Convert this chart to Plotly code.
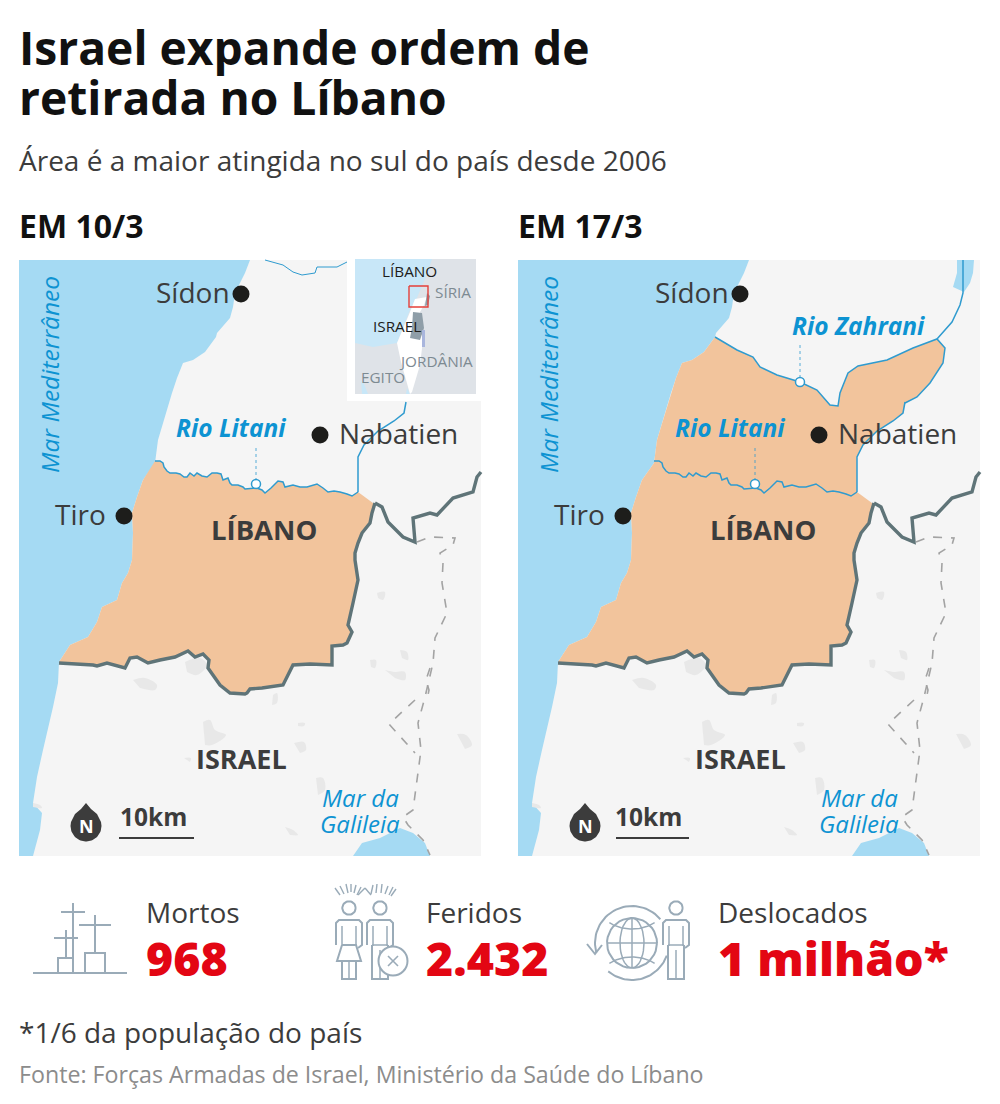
import numpy as np
import plotly.graph_objects as go

FONT = "Open Sans, Noto Sans, Arial"
SEA = "#a5daf3"
ORANGE = "#f2c49c"
LAND = "#f5f5f5"
BORDER = "#5f7478"
RIVER = "#2f9bcf"
LABEL_BLUE = "#0d93d2"
DARK = "#3c3c3c"
RED = "#e30613"
ICON = "#9aabb8"
OFFSET = 499  # right map is the left one moved across

TITLE_LINES = ["Israel expande ordem de", "retirada no Líbano"]
SUBTITLE = "Área é a maior atingida no sul do país desde 2006"
PANEL_TITLES = ["EM 10/3", "EM 17/3"]
STAT_LABELS = ["Mortos", "Feridos", "Deslocados"]
STAT_VALUES = ["968", "2.432", "1 milhão*"]
FOOTNOTE = "*1/6 da população do país"
SOURCE = "Fonte: Forças Armadas de Israel, Ministério da Saúde do Líbano"

# map outlines in page pixels
COAST_NORTH = [(250, 260), (245, 273), (235, 293), (233, 307), (230, 318), (217, 333)]
COAST_MID = [(216, 337), (205, 352), (193, 360), (183, 363), (177, 378), (172, 393), (165, 417), (158, 440), (155, 463)]
COAST_SOUTH = [(143, 480), (137, 497), (132, 513), (133, 533), (132, 560), (128, 573), (122, 583), (117, 600),
               (102, 607), (97, 622), (88, 637), (70, 645), (59, 662)]
COAST_ISRAEL = [(58, 683), (53, 707), (43, 750), (37, 777), (33, 803), (42, 813), (40, 830), (33, 856)]
LITANI = [(155, 461), (160, 461), (163, 463), (164, 467), (167, 471), (170, 473), (176, 473), (180, 474), (184, 477),
          (187, 477), (190, 473), (194, 476), (197, 473), (202, 476), (207, 477), (212, 473), (217, 473), (221, 474),
          (223, 480), (228, 478), (230, 483), (232, 485), (238, 485), (243, 487), (245, 489), (257, 488), (262, 490),
          (265, 493), (271, 488), (278, 481), (283, 482), (285, 487), (293, 485), (300, 487), (307, 487), (317, 484),
          (323, 488), (328, 492), (334, 491), (340, 492), (347, 494), (352, 496), (358, 492)]
SOUTH_BORDER = [(375, 503), (372, 513), (370, 523), (362, 533), (358, 543), (355, 553), (355, 560), (357, 573),
                (358, 580), (353, 603), (348, 625), (352, 632), (347, 643), (343, 645), (332, 646), (332, 665),
                (310, 664), (293, 665), (283, 685), (262, 688), (250, 689), (247, 693), (245, 694), (230, 693),
                (220, 685), (208, 668), (209, 660), (203, 654), (195, 657), (188, 651), (175, 657), (160, 660),
                (148, 663), (137, 657), (130, 658), (125, 668), (115, 665), (107, 663), (97, 666), (93, 665), (59, 663)]
EAST_BORDER = [(375, 503), (382, 507), (388, 522), (403, 537), (415, 542), (413, 518), (430, 513), (437, 515),
               (453, 498), (473, 492), (477, 477), (481, 472)]
ZAHRANI = [(216, 337), (238, 350), (254, 357), (261, 367), (278, 375), (301, 382), (318, 390), (331, 405), (339, 406),
           (341, 393), (349, 373), (359, 366), (388, 360), (414, 348), (438, 339), (446, 348), (444, 363), (431, 383),
           (418, 397), (406, 403)]
EAST_RIVER = [(406, 402), (404, 413), (394, 421), (378, 431), (364, 445), (358, 457), (358, 492)]
NORTH_RIVER = [(464, 260), (464, 293), (461, 305), (453, 322), (438, 339)]
LAKE = [(458, 260), (475, 260), (474, 273), (471, 283), (465, 292), (454, 287), (458, 273)]
TOP_STREAM = [(265, 260), (283, 265), (293, 272), (302, 275), (315, 273), (317, 267), (337, 267), (347, 262)]
GALILEE = [(353, 856), (362, 843), (380, 838), (400, 828), (413, 833), (425, 843), (430, 856)]
CEASEFIRE = [(417, 542), (430, 537), (455, 538), (453, 545), (440, 553), (443, 563), (442, 583), (447, 613), (435, 638),
             (433, 663), (425, 697), (418, 723), (421, 750), (417, 780), (413, 810), (403, 817), (408, 825), (423, 840),
             (430, 855)]
CEASEFIRE_BRANCH = [(415, 700), (389, 724), (415, 753)]
CEASEFIRE_DOUBLE = [(430, 668), (426, 680), (429, 690), (427, 700)]
TOWNS = [
    [(133, 680), (145, 678), (157, 685), (155, 690), (140, 688)],
    [(185, 662), (200, 658), (207, 665), (197, 675), (187, 672)],
    [(203, 722), (210, 720), (215, 730), (226, 735), (212, 745), (205, 745)],
    [(273, 695), (277, 693), (277, 703), (272, 705)],
    [(298, 723), (305, 723), (304, 726), (298, 726)],
    [(294, 743), (304, 742), (306, 750), (300, 753)],
    [(316, 778), (323, 778), (325, 790), (318, 795)],
    [(285, 827), (293, 830), (298, 835), (290, 835)],
    [(377, 593), (385, 592), (383, 600), (378, 598)],
    [(370, 660), (376, 660), (375, 668), (371, 667)],
    [(385, 670), (395, 672), (405, 672), (405, 680), (395, 678)],
    [(400, 650), (407, 652), (408, 660), (402, 658)],
    [(457, 734), (466, 735), (472, 745), (465, 749)],
    [(184, 758), (191, 758), (190, 762)],
    [(33, 803), (40, 805), (42, 808), (33, 807)],
]
CITIES = [("Sídon", 241, 294, 229, "right"), ("Nabatien", 320, 435, 340, "left"), ("Tiro", 124, 516, 105, "right")]

# locator map
INSET_SEA = [(355, 259), (432, 259), (428, 272), (416, 300), (410, 310), (397, 343), (373, 347), (355, 343)]
INSET_ISRAEL = [(415, 299), (427, 297), (424, 305), (420, 312), (423, 340), (420, 365), (412, 392), (410, 394), (401, 362),
                (397, 343), (410, 312)]
INSET_WEST_BANK = [(413, 312), (422, 313), (424, 328), (420, 340), (410, 338), (412, 328)]
INSET_GOLAN = [(427, 293), (430, 296), (428, 305), (425, 306)]
INSET_DEAD_SEA = [(422, 330), (425, 330), (425, 347), (422, 347)]
INSET_SUEZ = [(361, 380), (364, 384), (368, 394), (362, 394)]
INSET_AQABA = [(407, 388), (410, 394), (406, 394)]
INSET_RED_RECT = [(409, 286), (428, 286), (428, 307), (409, 307), (409, 286)]

fig = go.Figure()


def poly(points, fill, dx=0, smooth=False):
    xs, ys = zip(*points)
    fig.add_trace(go.Scatter(x=np.array(xs) + dx, y=ys, mode="lines", fill="toself", fillcolor=fill,
                             line={"width": 0, "shape": "spline" if smooth else "linear"}, hoverinfo="skip"))


def path(points, color, width, dx=0, dash="solid"):
    xs, ys = zip(*points)
    fig.add_trace(go.Scatter(x=np.array(xs) + dx, y=ys, mode="lines", hoverinfo="skip",
                             line={"color": color, "width": width, "dash": dash}))


def dots(x, y, size, color, edge=None, edge_width=0):
    fig.add_trace(go.Scatter(x=[x], y=[y], mode="markers", hoverinfo="skip",
                             marker={"size": size, "color": color, "line": {"color": edge or color, "width": edge_width}}))


def note(x, y, text, size, color=DARK, weight=400, anchor="left", style="normal", angle=0):
    # annotation boxes carry a little padding, pull the text back onto x
    if anchor == "left":
        x -= 3.5
    elif anchor == "right":
        x += 2.5
    fig.add_annotation(x=x, y=y, text=text, showarrow=False, xanchor=anchor, yanchor="middle", textangle=angle,
                       font={"family": FONT, "size": size, "color": color, "weight": weight, "style": style})


def arc(cx, cy, rx, ry, start, end):
    t = np.radians(np.linspace(start, end, 40))
    return list(zip(cx + rx * np.cos(t), cy + ry * np.sin(t)))


def draw_map(dx, expanded):
    poly([(19, 260), (481, 260), (481, 856), (19, 856)], LAND, dx)
    poly([(19, 260)] + COAST_NORTH + COAST_MID + COAST_SOUTH + COAST_ISRAEL + [(19, 856)], SEA, dx)
    for town in TOWNS:
        poly(town, "#e8e8e8", dx, smooth=True)
    poly(GALILEE, SEA, dx)
    if expanded:
        poly(ZAHRANI + EAST_RIVER[1:] + [(373, 503)] + SOUTH_BORDER + COAST_SOUTH[::-1] + COAST_MID[::-1], ORANGE, dx)
    else:
        poly(LITANI + [(373, 503)] + SOUTH_BORDER + COAST_SOUTH[::-1], ORANGE, dx)
    for dashed in (CEASEFIRE, CEASEFIRE_BRANCH, CEASEFIRE_DOUBLE):
        path(dashed, "#a3a3a3", 1.6, dx, "dash")
    path(SOUTH_BORDER, BORDER, 3.4, dx)
    path(EAST_BORDER, BORDER, 3.4, dx)
    path(LITANI, RIVER, 1.5, dx)
    path(EAST_RIVER, RIVER, 1.5, dx)
    if expanded:
        poly(LAKE, SEA, dx)
        path(NORTH_RIVER, RIVER, 1.5, dx)
        path(ZAHRANI, RIVER, 1.5, dx)
        path([(301, 345), (301, 378)], RIVER, 0.8, dx, "dot")
        dots(301 + dx, 382, 9, "white", RIVER, 1.5)
        note(359 + dx, 325, "Rio Zahrani", 24.5, LABEL_BLUE, 700, "center", "italic")
    else:
        path(TOP_STREAM, RIVER, 1, dx)
    path([(256, 448), (256, 480)], RIVER, 0.8, dx, "dot")
    dots(256 + dx, 484, 9, "white", RIVER, 1.5)

    for name, x, y, label_x, side in CITIES:
        dots(x + dx, y, 17, "#1d1d1b")
        note(label_x + dx, y - 2.5, name, 28, anchor=side)
    note(264 + dx, 529, "LÍBANO", 27.5, weight=700, anchor="center")
    note(241 + dx, 758, "ISRAEL", 27, weight=700, anchor="center")
    note(231 + dx, 427, "Rio Litani", 24.5, LABEL_BLUE, 700, "center", "italic")
    note(49 + dx, 375, "Mar Mediterrâneo", 24.5, LABEL_BLUE, 400, "center", "italic", -90)
    note(360 + dx, 797, "Mar da", 24, LABEL_BLUE, 400, "center", "italic")
    note(360 + dx, 823, "Galileia", 24, LABEL_BLUE, 400, "center", "italic")
    # north badge and scale bar
    poly([(86, 803), (91, 809), (97, 814), (101, 822)] + arc(86, 826, 15.5, 15.5, 0, 180) + [(71, 822), (75, 814), (81, 809)],
         DARK, dx)
    note(86 + dx, 826, "N", 18, "white", 700, "center")
    bar_x = (119, 194) if not expanded else (117, 190)
    path([(bar_x[0], 838), (bar_x[1], 838)], DARK, 2, dx)
    note(bar_x[0] + 2 * (not expanded) + dx, 816, "10km", 24.5, weight=700)


def draw_inset():
    poly([(347, 260), (481, 260), (481, 401), (347, 401)], "white")
    poly([(355, 259), (476, 259), (476, 394), (355, 394)], "#dfe3e8")
    poly(INSET_SEA, "#c8e7f8")
    poly(INSET_SUEZ, "#c8e7f8")
    poly(INSET_AQABA, "#c8e7f8")
    poly(INSET_ISRAEL, "white")
    poly(INSET_WEST_BANK, "#8f9ea8")
    poly(INSET_GOLAN, "#8f9ea8")
    poly(INSET_DEAD_SEA, "#a9b6dd")
    path(INSET_RED_RECT, "#e5403a", 1.4)
    note(409, 271, "LÍBANO", 15.3, "#1d1d1b", anchor="center")
    note(453, 292, "SÍRIA", 15.3, "#7d8a92", anchor="center")
    note(397, 326, "ISRAEL", 15.3, "#1d1d1b", anchor="center")
    note(436, 361, "JORDÂNIA", 15.3, "#7d8a92", anchor="center")
    note(383, 377, "EGITO", 15.3, "#7d8a92", anchor="center")


def person(x0, y0, skirt=False):
    # x0 is the left shoulder, y0 the top of the shoulders
    path(arc(x0 + 13, y0 - 12, 6.7, 6.7, 0, 360), ICON, 2)
    path([(x0, y0 + 25), (x0, y0 + 3), (x0 + 3, y0), (x0 + 23, y0), (x0 + 26, y0 + 3), (x0 + 26, y0 + 25), (x0 + 22, y0 + 28)],
         ICON, 2)
    path([(x0 + 6, y0 + 6), (x0 + 6, y0 + 26)], ICON, 1.5)
    path([(x0 + 20, y0 + 6), (x0 + 20, y0 + 26)], ICON, 1.5)
    if skirt:
        path([(x0 + 6, y0 + 25), (x0 + 20, y0 + 25), (x0 + 25, y0 + 41), (x0 + 1, y0 + 41), (x0 + 6, y0 + 25)], ICON, 2)
        path([(x0 + 6, y0 + 41), (x0 + 6, y0 + 59), (x0 + 20, y0 + 59), (x0 + 20, y0 + 41)], ICON, 2)
        path([(x0 + 13, y0 + 41), (x0 + 13, y0 + 59)], ICON, 1.5)
    else:
        path([(x0 + 5, y0 + 25), (x0 + 21, y0 + 25)], ICON, 1.5)
        path([(x0 + 5, y0 + 25), (x0 + 5, y0 + 59), (x0 + 21, y0 + 59), (x0 + 21, y0 + 25)], ICON, 2)
        path([(x0 + 13, y0 + 30), (x0 + 13, y0 + 59)], ICON, 1.5)


def draw_icons():
    # graves
    for seg in [[(33, 973), (127, 973)], [(73, 903), (73, 973)], [(61, 912), (85, 912)], [(95, 915), (95, 953)],
                [(79, 925), (111, 925)], [(66, 930), (66, 958)], [(54, 938), (78, 938)],
                [(58, 973), (58, 958), (73, 958), (73, 973)], [(85, 973), (85, 953), (105, 953), (105, 973)]]:
        path(seg, ICON, 2)
    # wounded pair
    person(336, 920, skirt=True)
    person(367, 920)
    for a, b in [((335, 888), (340, 895)), ((340, 886), (344, 894)), ((346, 884), (348, 893)), ((351, 884), (351, 892)),
                 ((356, 885), (354, 893)), ((361, 887), (357, 895)), ((358, 895), (365, 888)), ((365, 888), (371, 895)),
                 ((371, 894), (373, 885)), ((376, 893), (377, 884)), ((381, 893), (382, 884)), ((385, 894), (388, 886)),
                 ((389, 895), (393, 887)), ((391, 896), (396, 889))]:
        path([a, b], ICON, 1.4)
    dots(393, 961, 29, "white", ICON, 2)
    path([(388, 956), (398, 966)], ICON, 1.6)
    path([(398, 956), (388, 966)], ICON, 1.6)
    # displaced
    cx, cy = 632, 943
    path(arc(cx, cy, 25, 25, 0, 360), ICON, 2)
    path(arc(cx, cy, 12, 25, 0, 360), ICON, 1.5)
    path([(cx, cy - 25), (cx, cy + 25)], ICON, 1.5)
    path([(cx - 25, cy), (cx + 25, cy)], ICON, 1.5)
    path(arc(cx, cy - 36, 32, 22, 45, 135), ICON, 1.5)
    path(arc(cx, cy + 36, 32, 22, 225, 315), ICON, 1.5)
    path(arc(cx, cy, 37, 37, -40, -195), ICON, 2)
    path([(587, 944), (595, 954), (602, 945)], ICON, 2)
    path(arc(cx, cy, 37, 37, 130, 20), ICON, 2)
    person(663, 920)


draw_map(0, False)
draw_inset()
draw_map(OFFSET, True)
draw_icons()

note(20, 47, TITLE_LINES[0], 46.2, "#111111", 700)
note(20, 97, TITLE_LINES[1], 46.2, "#111111", 700)
note(20, 160, SUBTITLE, 28)
note(20, 225, PANEL_TITLES[0], 32, "#111111", 700)
note(519, 225, PANEL_TITLES[1], 32, "#111111", 700)
for x, label, value in zip([147, 427, 719], STAT_LABELS, STAT_VALUES):
    note(x, 912, label, 28)
    note(x, 958, value, 46.5, RED, 800)
note(20, 1032, FOOTNOTE, 28)
note(20, 1074, SOURCE, 23.2, "#8c8c8c")

fig.update_layout(
    width=1000,
    height=1104,
    margin={"l": 0, "r": 0, "t": 0, "b": 0},
    paper_bgcolor="white",
    plot_bgcolor="white",
    showlegend=False,
    xaxis={"range": [0, 1000], "visible": False, "fixedrange": True},
    yaxis={"range": [1104, 0], "visible": False, "fixedrange": True},
)
fig.write_html("out.html", config={"displayModeBar": False},
               post_script="document.body.style.margin='0';")
